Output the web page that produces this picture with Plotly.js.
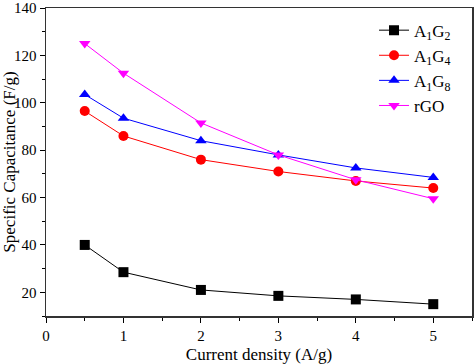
<!DOCTYPE html>
<html><head><meta charset="utf-8">
<script src="https://cdn.plot.ly/plotly-3.0.1.min.js"></script>
<style>body{margin:0;padding:0;background:#fff}#c{width:474px;height:364px}</style>
</head><body><div id="c"></div>
<script>
const currentDensity = [0.5, 1, 2, 3, 4, 5];
const seriesNames = ["A<sub>1</sub>G<sub>2</sub>", "A<sub>1</sub>G<sub>4</sub>", "A<sub>1</sub>G<sub>8</sub>", "rGO"];
const a1g2 = [40, 28.5, 21, 18.5, 17, 15];
const a1g4 = [96.5, 86, 76, 71, 67, 64];
const a1g8 = [103.5, 93.5, 84, 78, 72.5, 68.5];
const rgo = [125, 112.5, 91.5, 78, 67.5, 59.5];

const colors = ["#000000", "#ff0000", "#0000ff", "#ff00ff"];
const symbols = ["square", "circle", "triangle-up", "triangle-down"];
const values = [a1g2, a1g4, a1g8, rgo];

const traces = values.map((v, i) => ({
  x: currentDensity, y: v, name: seriesNames[i], type: "scatter", mode: "lines+markers",
  line: {color: colors[i], width: 1},
  marker: {color: colors[i], symbol: symbols[i], size: 10}
}));

const font = {family: "Liberation Serif, Times New Roman, serif", color: "#000"};
const layout = {
  width: 474, height: 364,
  margin: {l: 46, r: 2, t: 8, b: 48},
  paper_bgcolor: "#fff", plot_bgcolor: "#fff",
  font: Object.assign({size: 15}, font),
  showlegend: true,
  legend: {x: 0.77, y: 0.985, xanchor: "left", yanchor: "top", bgcolor: "rgba(0,0,0,0)",
    font: Object.assign({size: 17}, font), tracegroupgap: 0, itemwidth: 30},
  xaxis: {
    range: [0, 5.5], dtick: 1, tick0: 0, ticks: "outside", ticklen: 5, tickcolor: "#000",
    showline: true, linecolor: "#333", linewidth: 1.5, mirror: true, showgrid: false, zeroline: false,
    minor: {dtick: 0.5, ticks: "outside", ticklen: 3, tickcolor: "#000"},
    tickfont: Object.assign({size: 15}, font), ticklabeloverflow: "allow",
    title: {text: "Current density (A/g)", font: Object.assign({size: 17}, font), standoff: 10}
  },
  yaxis: {
    range: [10, 140.01], dtick: 20, tick0: 0, ticks: "outside", ticklen: 5, tickcolor: "#000",
    showline: true, linecolor: "#333", linewidth: 1.5, mirror: true, showgrid: false, zeroline: false,
    minor: {dtick: 10, ticks: "outside", ticklen: 3, tickcolor: "#000"},
    tickfont: Object.assign({size: 15}, font), ticklabeloverflow: "allow",
    title: {text: "Specific Capacitance (F/g)", font: Object.assign({size: 17}, font), standoff: 4}
  }
};
Plotly.newPlot("c", traces, layout, {staticPlot: true, displayModeBar: false});
</script></body></html>
